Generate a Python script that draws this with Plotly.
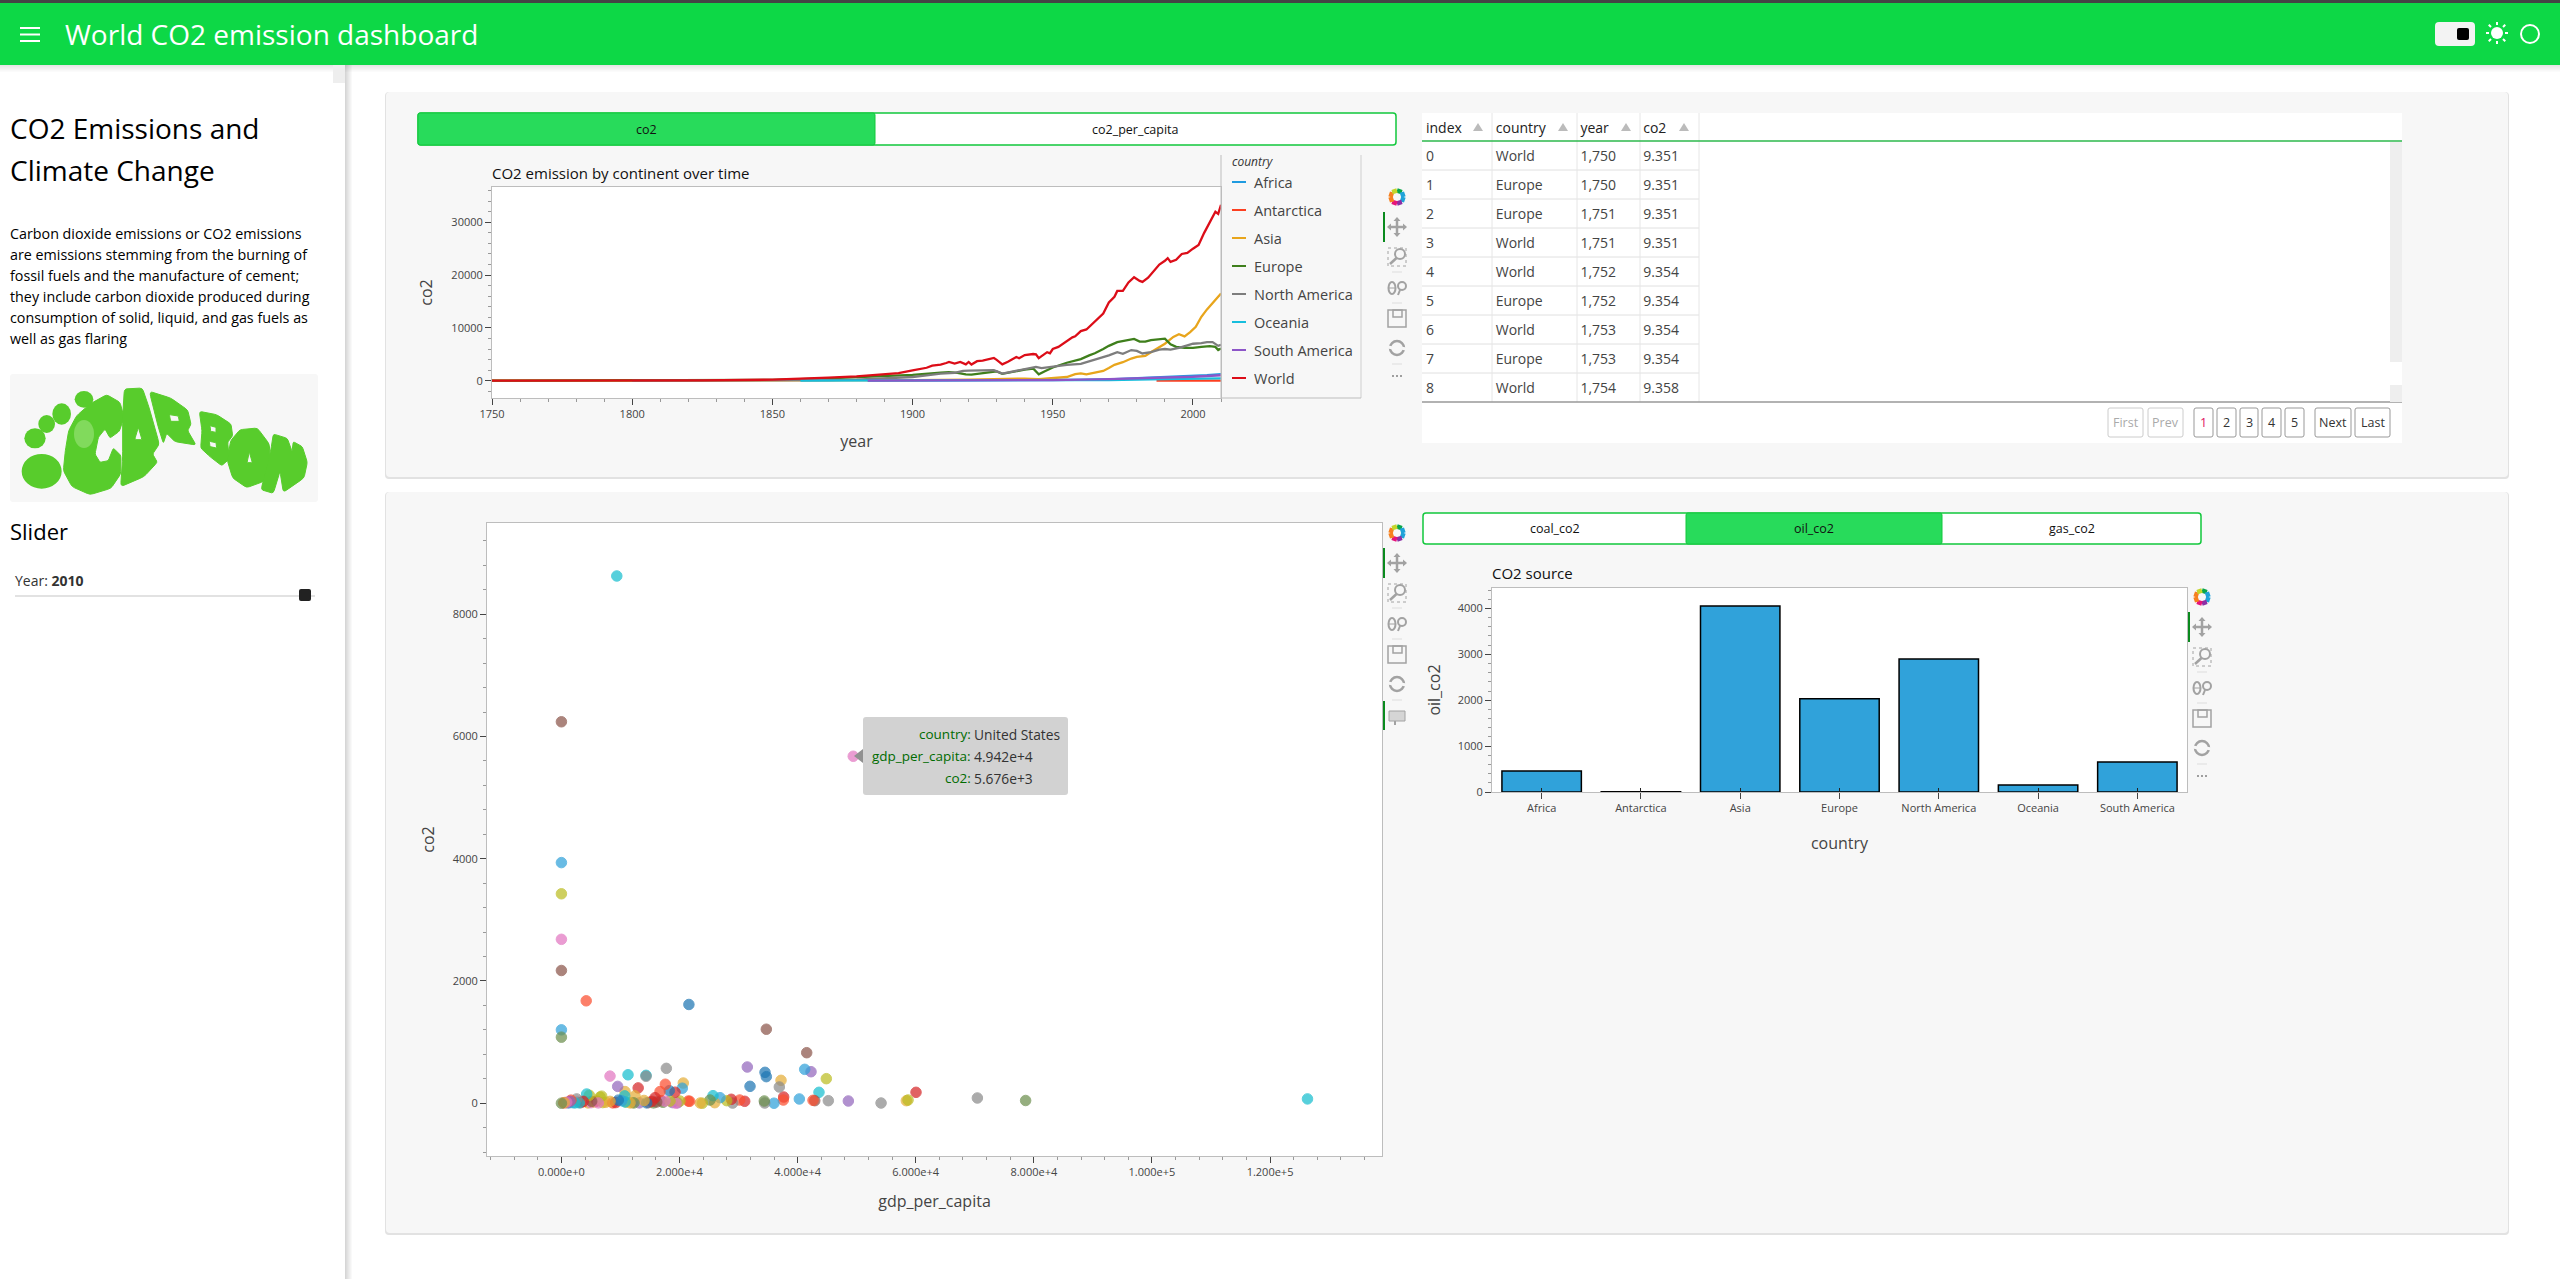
import plotly.graph_objects as go

W, H = 2560, 1279
FONT = "Open Sans"

# line chart: co2 by continent
continents = ["Africa", "Antarctica", "Asia", "Europe", "North America", "Oceania", "South America", "World"]

africa_year = [1884, 1900, 1920, 1940, 1950, 1960, 1970, 1980, 1990, 2000, 2005, 2010]
africa_co2 = [0, 3, 15, 50, 100, 150, 260, 480, 680, 830, 1030, 1220]
antarctica_year = [1987, 1995, 2005, 2010]
antarctica_co2 = [0, 0, 1, 1]
asia_year = [1750, 1850, 1880, 1900, 1920, 1940, 1945, 1950, 1955, 1958, 1960, 1962, 1965, 1968, 1970, 1972, 1975,
             1978, 1980, 1983, 1985, 1988, 1990, 1993, 1995, 1997, 1999, 2001, 2003, 2005, 2008, 2010]
asia_co2 = [0, 5, 30, 110, 200, 400, 300, 450, 700, 1250, 1400, 1200, 1500, 1850, 2400, 3000, 3500,
            4200, 4500, 4700, 5400, 6300, 7000, 8300, 8800, 8400, 9200, 10200, 12100, 13500, 15300, 16500]
europe_year = [1750, 1800, 1850, 1870, 1880, 1890, 1900, 1910, 1913, 1916, 1919, 1921, 1925, 1928, 1930, 1932, 1935,
               1938, 1940, 1943, 1945, 1947, 1950, 1955, 1960, 1963, 1965, 1968, 1970, 1973, 1976, 1979, 1981, 1983,
               1985, 1987, 1989, 1990, 1992, 1994, 1997, 2000, 2003, 2006, 2008, 2009, 2010]
europe_co2 = [9, 28, 170, 450, 640, 850, 1100, 1500, 1600, 1500, 1200, 1150, 1400, 1700, 1750, 1300, 1600,
              1950, 2100, 2300, 1200, 1750, 2500, 3400, 4100, 4800, 5200, 6000, 6600, 7300, 7600, 7900, 7400, 7400,
              7700, 7800, 7900, 7950, 6900, 6400, 6200, 6200, 6400, 6550, 6400, 5800, 6100]
north_america_year = [1800, 1850, 1870, 1880, 1890, 1900, 1905, 1910, 1915, 1918, 1920, 1925, 1929, 1932, 1936, 1940,
                      1944, 1946, 1950, 1955, 1960, 1965, 1970, 1973, 1975, 1978, 1980, 1982, 1985, 1988, 1990, 1992,
                      1995, 1998, 2000, 2003, 2005, 2007, 2009, 2010]
north_america_co2 = [1, 10, 100, 200, 400, 700, 1000, 1350, 1500, 1850, 1900, 2000, 2000, 1350, 1750, 2100,
                     2600, 2400, 2700, 3000, 3200, 3950, 4800, 5400, 5100, 5800, 5650, 5150, 5400, 5900, 6000, 5900,
                     6200, 6700, 7000, 7100, 7300, 7300, 6600, 6800]
oceania_year = [1860, 1880, 1900, 1950, 1970, 1990, 2000, 2010]
oceania_co2 = [1, 5, 15, 50, 130, 300, 380, 450]
south_america_year = [1884, 1900, 1930, 1950, 1970, 1990, 2000, 2010]
south_america_co2 = [1, 10, 40, 120, 300, 520, 750, 1030]
world_year = [1750, 1800, 1825, 1850, 1860, 1870, 1880, 1885, 1890, 1895, 1900, 1903, 1905, 1907, 1910, 1912, 1913,
              1915, 1917, 1919, 1920, 1921, 1923, 1925, 1927, 1929, 1930, 1932, 1934, 1936, 1937, 1938, 1940, 1943,
              1944, 1945, 1947, 1948, 1949, 1950, 1952, 1955, 1957, 1958, 1960, 1962, 1965, 1968, 1970, 1972, 1973,
              1975, 1977, 1979, 1981, 1982, 1984, 1986, 1988, 1990, 1991, 1992, 1994, 1996, 1998, 2000, 2002, 2004,
              2006, 2007, 2008, 2009, 2010]
world_co2 = [9, 28, 60, 200, 330, 570, 800, 1000, 1250, 1450, 1950, 2200, 2450, 2850, 3050, 3350, 3550,
             3250, 3550, 3100, 3550, 3050, 3700, 3780, 4050, 4300, 3950, 3100, 3600, 4150, 4500, 4250, 4850, 5050,
             5000, 4250, 5100, 5400, 5200, 6000, 6400, 7500, 8200, 8400, 9400, 9700, 11200, 12700, 14800, 15900, 17000,
             17000, 18600, 19600, 18900, 18700, 19500, 20800, 22000, 22700, 23200, 22500, 22900, 24000, 24200, 25000,
             25700, 28000, 30000, 31000, 32000, 31600, 33300]

# scatter: gdp_per_capita against co2, one point per country, group = colour cycle slot
scatter_gdp = [400, 800, 1200, 1500, 1900, 2700, 3300, 3900, 4500, 5000, 5600, 6000, 7000, 7500, 8700, 9200, 11000,
               12000, 13200, 14800, 15600, 16900, 17200, 18800, 19700,
               0, 0, 0, 0, 0, 0, 0, 4200, 21590, 9380, 49420, 126340, 78610, 70440, 60050, 58410, 58700, 54130,
               48590, 45200, 44860, 43620, 42900, 42610, 42270, 41540, 41200, 40290, 37640, 37580, 37190, 36900,
               36000, 34700, 34700, 34480, 34430, 34360, 31940, 31480, 31040, 30190, 29000, 28770, 28000, 26860,
               25960, 25670, 25170, 23870, 23500, 21720, 21490, 20640, 20470, 20080, 19400, 19240, 18390, 18270,
               17770, 17600, 17540, 16700, 16140, 15860, 15300, 14450, 14330, 14330, 13990, 13000, 12460, 12290,
               11620, 11280, 10770, 10770, 10720, 10210, 9640, 9530, 8230, 8230, 6820, 6540, 6250, 5130, 4730,
               4280, 3700, 3030, 2590, 2300, 1620, 1450, 900, 500, 0]
scatter_co2 = [5, 10, 5, 30, 8, 20, 10, 30, 5, 8, 20, 35, 10, 15, 5, 10, 20,
               8, 5, 10, 5, 40, 15, 10, 8,
               1200, 1080, 6240, 3936, 3426, 2681, 2171, 1675, 1615, 8625, 5676, 70, 44, 85, 178, 41, 52, 3,
               36, 41, 401, 178, 41, 47, 515, 826, 554, 69, 101, 52, 374, 265,
               0, 1210, 434, 505, 3, 36, 276, 592, 31, 52, 2, 64, 41, 90,
               8, 123, 52, 0, 3, 31, 35, 330, 245, 35, 0, 180, 35, 205,
               570, 310, 35, 190, 20, 90, 30, 5, 456, 440, 45, 250, 120, 5,
               5, 465, 190, 20, 120, 40, 50, 275, 443, 30, 115, 100, 5, 30, 130,
               150, 30, 5, 70, 5, 50, 30, 15, 10, 0]
scatter_group = [1, 7, 8, 1, 0, 9, 7, 7, 2, 9, 2, 7, 11, 2, 1, 7, 11,
                 2, 6, 1, 3, 7, 3, 6, 6,
                 0, 3, 10, 0, 11, 9, 10, 1, 8, 5, 9, 5, 3, 4, 7, 2, 11, 4,
                 6, 4, 11, 5, 10, 1, 6, 10, 0, 0, 7, 1, 2, 4,
                 0, 10, 8, 8, 4, 3, 8, 6, 7, 1, 4, 7, 11, 0,
                 2, 5, 3, 11, 2, 1, 1, 2, 0, 11, 9, 7, 11, 8,
                 4, 1, 9, 1, 10, 7, 7, 8, 5, 4, 2, 7, 2, 3,
                 2, 5, 2, 5, 5, 0, 8, 6, 9, 2, 11, 11, 9, 10, 11,
                 5, 7, 5, 4, 5, 1, 6, 9, 2, 3]

# bars: oil_co2 per continent
bar_categories = ["Africa", "Antarctica", "Asia", "Europe", "North America", "Oceania", "South America"]
oil_co2 = [457, 5, 4052, 2033, 2897, 152, 653]

# table
table_index = [str(i) for i in range(9)]
table_country = ["World", "Europe", "Europe", "World", "World", "Europe", "World", "Europe", "World"]
table_year = ["1,750", "1,750", "1,751", "1,751", "1,752", "1,752", "1,753", "1,753", "1,754"]
table_co2 = ["9.351", "9.351", "9.351", "9.351", "9.354", "9.354", "9.354", "9.354", "9.358"]

cycle = ["#30a2da", "#fc4f30", "#e5ae38", "#6d904f", "#8b8b8b", "#17becf",
         "#9467bd", "#d62728", "#1f77b4", "#e377c2", "#8c564b", "#bcbd22"]
line_colors = ["#1f9be0", "#fc3f20", "#e8a51c", "#3f7f1c", "#7d7d7d", "#17bedd", "#8d55c8", "#dc0d18"]
GREEN = "#0dd846"
ACTIVE = "#28db5b"
TABLINE = "#12c83c"
CLEAR = "rgba(0,0,0,0)"


def X(x):
    return x / W


def Y(y):
    return 1 - y / H


shapes = []
notes = []


def rect(x0, y0, x1, y1, fill, line=None, lw=1, layer="below", opacity=1, dash=None):
    shapes.append(dict(type="rect", xref="paper", yref="paper", x0=X(x0), x1=X(x1), y0=Y(y0), y1=Y(y1),
                       fillcolor=fill, line=dict(color=line or CLEAR, width=lw if line else 0, dash=dash),
                       layer=layer, opacity=opacity))


def seg(x0, y0, x1, y1, color, lw=1, layer="above"):
    shapes.append(dict(type="line", xref="paper", yref="paper", x0=X(x0), x1=X(x1), y0=Y(y0), y1=Y(y1),
                       line=dict(color=color, width=lw), layer=layer))


def oval(cx, cy, rx, ry, fill=None, line=None, lw=1, layer="above"):
    shapes.append(dict(type="circle", xref="paper", yref="paper", x0=X(cx - rx), x1=X(cx + rx), y0=Y(cy + ry),
                       y1=Y(cy - ry), fillcolor=fill or CLEAR,
                       line=dict(color=line or CLEAR, width=lw if line else 0), layer=layer))


def path(d, fill, line=None, lw=1, layer="above"):
    shapes.append(dict(type="path", xref="paper", yref="paper", path=d, fillcolor=fill,
                       line=dict(color=line or CLEAR, width=lw if line else 0), layer=layer))


def rrect(x0, y0, x1, y1, r, fill, line=None, lw=1, layer="below"):
    p = lambda x, y: f"{X(x)},{Y(y)}"
    d = (f"M{p(x0 + r, y0)} L{p(x1 - r, y0)} Q{p(x1, y0)} {p(x1, y0 + r)} L{p(x1, y1 - r)} Q{p(x1, y1)} {p(x1 - r, y1)} "
         f"L{p(x0 + r, y1)} Q{p(x0, y1)} {p(x0, y1 - r)} L{p(x0, y0 + r)} Q{p(x0, y0)} {p(x0 + r, y0)} Z")
    path(d, fill, line, lw, layer)


def blob(pts):
    # closed outline with only its corners rounded off
    n = len(pts)
    d = ""
    for i in range(n):
        a, b, c = pts[i - 1], pts[i], pts[(i + 1) % n]
        p0 = (b[0] + (a[0] - b[0]) * 0.15, b[1] + (a[1] - b[1]) * 0.15)
        p1 = (b[0] + (c[0] - b[0]) * 0.15, b[1] + (c[1] - b[1]) * 0.15)
        d += ("M" if i == 0 else " L") + f"{X(p0[0])},{Y(p0[1])} Q{X(b[0])},{Y(b[1])} {X(p1[0])},{Y(p1[1])}"
    return d + " Z"


def text(s, x, y, size, color="#111", anchor="left", angle=0, family=FONT):
    notes.append(dict(text=s, x=X(x), y=Y(y), xref="paper", yref="paper", xanchor=anchor, yanchor="middle",
                      showarrow=False, textangle=angle, borderpad=0, borderwidth=0,
                      font=dict(family=family, size=size, color=color)))


# page furniture
rect(0, 0, W, 3, "#444444", layer="below")
for i in range(7):
    rect(0, 65 + i, W, 66 + i, "#000000", layer="below", opacity=0.10 * (7 - i) / 7)
    rect(345 + i, 65, 346 + i, H, "#000000", layer="below", opacity=0.16 * (7 - i) / 7)
rect(0, 3, W, 65, GREEN)
rect(333, 65, 345, 83, "#eeeeee")
for y in (28, 34.5, 41):
    seg(20, y, 40, y, "white", 2)
text("World CO2 emission dashboard", 65, 34, 28, "white")

# header widgets
rrect(2435, 22, 2475, 46, 4, "#f3f3f3", layer="above")
rrect(2457, 28, 2469, 40, 2, "black", layer="above")
oval(2497, 33, 6, 6, "white")
for dx, dy in [(10, 0), (-10, 0), (0, 10), (0, -10), (7.5, 7.5), (-7.5, 7.5), (7.5, -7.5), (-7.5, -7.5)]:
    seg(2497 + dx * 0.8, 33 + dy * 0.8, 2497 + dx * 1.1, 33 + dy * 1.1, "white", 2)
oval(2530, 34, 9, 9, None, "white", 2)

# sidebar
text("CO2 Emissions and", 10, 127.5, 28, "#000")
text("Climate Change", 10, 169.5, 28, "#000")
for i, s in enumerate(["Carbon dioxide emissions or CO2 emissions",
                       "are emissions stemming from the burning of",
                       "fossil fuels and the manufacture of cement;",
                       "they include carbon dioxide produced during",
                       "consumption of solid, liquid, and gas fuels as",
                       "well as gas flaring"]):
    text(s, 10, 233.5 + i * 21, 14.3, "#000")

# carbon footprint logo, outlines taken from a 3x crop of the picture
rrect(10, 374, 318, 502, 3, "#f7f7f7")
LOGO = "#58cc2c"


def lg(pts):
    return [(10 + a / 3, 374 + b / 3) for a, b in pts]


for cx, cy, rx, ry in [(95, 292, 60, 52), (75, 193, 32, 30), (110, 150, 25, 27), (155, 120, 28, 32), (222, 76, 28, 25)]:
    oval(10 + cx / 3, 374 + cy / 3, rx / 3, ry / 3, LOGO, layer="below")
letters = [
    [[(200, 125), (240, 90), (290, 62), (330, 85), (342, 130), (328, 172), (300, 192), (285, 165), (265, 190),
      (255, 240), (270, 265), (295, 260), (310, 222), (333, 245), (332, 300), (303, 343), (240, 362), (186, 338),
      (160, 290), (166, 230), (176, 170)]],
    [[(343, 45), (397, 42), (417, 100), (448, 210), (428, 240), (442, 265), (402, 308), (332, 338), (338, 250),
      (338, 130)], [(385, 160), (374, 197), (396, 197)]],
    [[(418, 52), (482, 72), (533, 108), (543, 150), (533, 170), (558, 213), (495, 203), (470, 178), (460, 208),
      (445, 160)], [(478, 122), (505, 126), (508, 142), (482, 142)]],
    [[(568, 112), (620, 122), (663, 150), (668, 185), (653, 205), (658, 255), (635, 275), (600, 248), (572, 222),
      (576, 170)], [(600, 155), (618, 160), (618, 175), (602, 172)], [(598, 202), (618, 206), (620, 222), (600, 218)]],
    [[(690, 167), (742, 162), (778, 210), (781, 270), (762, 322), (710, 341), (668, 312), (652, 260), (662, 200)],
     [(718, 234), (727, 266), (711, 266)]],
    [[(790, 180), (832, 193), (846, 232), (850, 203), (877, 218), (892, 265), (882, 312), (820, 355), (810, 292),
      (790, 358), (753, 347), (773, 270), (783, 225)]],
]
for parts in letters:
    path(" ".join(blob(lg(p)) for p in parts), LOGO, LOGO, 1, layer="below")
oval(10 + 222 / 3, 374 + 180 / 3, 10, 14, "rgba(180,235,150,0.45)", layer="below")

text("Slider", 10, 531, 22, "#000")
text("Year: <b>2010</b>", 15, 580, 14, "#333")
rect(15, 595, 315, 597, "#e2e2e2")
rrect(299, 589, 311, 601, 2, "#222222", layer="above")

# cards
for y0, y1 in [(92, 477), (492, 1233)]:
    rrect(385, y0, 2509, y1 + 2, 4, "#e2e2e2")
    rrect(386, y0, 2508, y1, 4, "#f7f7f7")
# plot areas: the layout background sits under the cards, so repeat it here
rect(492, 187, 1221, 398, "white")
rect(487, 523, 1382, 1156, "white")
rect(1492, 588, 2187, 792, "white")


def tabs(x0, x1, y0, y1, labels, stops, active):
    rrect(x0, y0, x1, y1, 3, "white", TABLINE, 1.5, layer="below")
    rrect(stops[active], y0, stops[active + 1], y1, 2, ACTIVE, TABLINE, 1, layer="below")
    for i, s in enumerate(labels):
        text(s, (stops[i] + stops[i + 1]) / 2, (y0 + y1) / 2, 12.5, "#111", "center")


tabs(418, 1396, 113, 145, ["co2", "co2_per_capita"], [418, 875, 1396], 0)
tabs(1423, 2201, 513, 544, ["coal_co2", "oil_co2", "gas_co2"], [1423, 1686, 1942, 2201], 1)


def toolbar(cx, cy, last="dots"):
    gray = "#a2a2a2"
    # logo ring
    ring = [("#0aa64a", 0, -1), ("#1fa3d9", 0.75, -0.75), ("#1fa3d9", 1, 0), ("#8b2fa5", 0.75, 0.75),
            ("#e5147a", 0, 1), ("#f6801f", -0.75, 0.75), ("#f6801f", -1, 0), ("#c3d62b", -0.75, -0.75)]
    for i, (c, dx, dy) in enumerate(ring):
        nx, ny = ring[(i + 1) % 8][1:]
        seg(cx + 6.5 * dx, cy + 6.5 * dy, cx + 6.5 * nx, cy + 6.5 * ny, c, 4.5)
    # pan
    py = cy + 30
    seg(cx - 8, py, cx + 8, py, gray, 2.5)
    seg(cx, py - 8, cx, py + 8, gray, 2.5)
    for a, b in [(1, 0), (-1, 0), (0, 1), (0, -1)]:
        tip = (cx + 10 * a, py + 10 * b)
        s1 = (cx + 6 * a + 3.5 * b, py + 6 * b + 3.5 * a)
        s2 = (cx + 6 * a - 3.5 * b, py + 6 * b - 3.5 * a)
        path(f"M{X(tip[0])},{Y(tip[1])} L{X(s1[0])},{Y(s1[1])} L{X(s2[0])},{Y(s2[1])} Z", gray)
    rect(cx - 14, cy + 15, cx - 12, cy + 45, "#0a8a1e", layer="above")
    # box zoom
    zy = cy + 60
    rect(cx - 9, zy - 9, cx + 9, zy + 9, CLEAR, gray, 1, layer="above", dash="dot")
    oval(cx + 3, zy - 3, 5, 5, "#f7f7f7", gray, 2)
    seg(cx - 0.5, zy + 1, cx - 7, zy + 7, gray, 2.5)
    seg(cx - 5, cy + 75, cx + 5, cy + 75, "#dddddd", 1)
    # wheel zoom
    wy = cy + 91
    oval(cx - 5, wy, 3.5, 6, None, gray, 2)
    seg(cx - 8, wy, cx - 2, wy, gray, 1)
    oval(cx + 5, wy - 2, 4, 4, None, gray, 2)
    seg(cx + 3, wy + 2, cx + 1, wy + 7, gray, 2)
    seg(cx - 5, cy + 106, cx + 5, cy + 106, "#dddddd", 1)
    # save
    sy = cy + 122
    rect(cx - 9, sy - 9, cx + 9, sy + 8, CLEAR, gray, 1.5, layer="above")
    rect(cx - 4, sy - 9, cx + 5, sy - 2, CLEAR, gray, 1.5, layer="above")
    # reset
    ry = cy + 151
    oval(cx, ry, 7, 7, None, gray, 2.5)
    seg(cx - 9, ry - 1, cx - 4, ry + 0, "#f7f7f7", 3)
    seg(cx + 4, ry, cx + 9, ry + 1, "#f7f7f7", 3)
    seg(cx - 5, cy + 167, cx + 5, cy + 167, "#dddddd", 1)
    if last == "dots":
        for dx in (-4, 0, 4):
            rect(cx + dx - 0.8, cy + 178, cx + dx + 0.8, cy + 180, "#888888", layer="above")
    else:
        hy = cy + 184
        rect(cx - 8, hy - 6, cx + 8, hy + 4, "#d5d5d5", gray, 1, layer="above")
        seg(cx - 2, hy + 4, cx - 2, hy + 8, gray, 2)
        rect(cx - 14, cy + 168, cx - 12, cy + 197, "#0a8a1e", layer="above")


toolbar(1397, 197)
toolbar(1397, 533, "hover")
toolbar(2202, 597)

fig = go.Figure()


def add_line(x, y, i):
    fig.add_trace(go.Scatter(x=x, y=y, mode="lines", name=continents[i], xaxis="x", yaxis="y",
                             line=dict(color=line_colors[i], width=2.3), showlegend=False))


add_line(africa_year, africa_co2, 0)
add_line(antarctica_year, antarctica_co2, 1)
add_line(asia_year, asia_co2, 2)
add_line(europe_year, europe_co2, 3)
add_line(north_america_year, north_america_co2, 4)
add_line(oceania_year, oceania_co2, 5)
add_line(south_america_year, south_america_co2, 6)
add_line(world_year, world_co2, 7)

fig.add_trace(go.Scatter(x=scatter_gdp, y=scatter_co2, mode="markers", xaxis="x2", yaxis="y2", showlegend=False,
                         marker=dict(size=10.5, opacity=0.72, color=[cycle[g] for g in scatter_group],
                                     line=dict(width=1, color=[cycle[g] for g in scatter_group]))))

fig.add_trace(go.Bar(x=bar_categories, y=oil_co2, xaxis="x3", yaxis="y3", width=0.8, showlegend=False,
                     marker=dict(color="#30a2da", line=dict(color="black", width=1.5))))
# empty trace so the inward tick marks of the bar axis get drawn over the bars
fig.add_trace(go.Scatter(x=bar_categories, y=[None] * 7, xaxis="x4", yaxis="y3", showlegend=False, mode="lines"))

# table text starts 8px into each cell in plotly, so the grid is drawn separately
fig.add_trace(go.Table(
    domain=dict(x=[X(1418), X(1695)], y=[Y(403.5), Y(114.5)]),
    columnwidth=[70, 85, 63, 59],
    header=dict(values=["index", "country", "year", "co2"], height=28, align="left", fill_color=CLEAR,
                line_color=CLEAR, font=dict(family=FONT, size=14, color="#222")),
    cells=dict(values=[table_index, table_country, table_year, table_co2], height=29, align="left",
               fill_color=CLEAR, line_color=CLEAR, font=dict(family=FONT, size=14, color="#444"))))

# table furniture
rect(1422, 113, 2402, 443, "white")
for k in range(1, 9):
    seg(1422, 141 + 29 * k, 1699, 141 + 29 * k, "#e0e0e0", 1)
for vx in (1492, 1577, 1640, 1699):
    seg(vx, 113, vx, 402, "#e6e6e6", 1)
seg(1422, 141, 2402, 141, "#2db84d", 1.5)
seg(1422, 402, 2402, 402, "#999999", 1.5)
rect(2390, 142, 2402, 362, "#eeeeee", layer="above")
rect(2390, 385, 2402, 402, "#eeeeee", layer="above")
for tx in (1478, 1563, 1626, 1684):
    path(f"M{X(tx - 5)},{Y(131)} L{X(tx + 5)},{Y(131)} L{X(tx)},{Y(123)} Z", "#bbbbbb")
pages = [("First", 2108, 2143, "#aaaaaa"), ("Prev", 2148, 2183, "#aaaaaa"), ("1", 2194, 2213, "#e0105f"),
         ("2", 2217, 2236, "#333333"), ("3", 2240, 2258, "#333333"), ("4", 2262, 2281, "#333333"),
         ("5", 2285, 2304, "#333333"), ("Next", 2315, 2351, "#333333"), ("Last", 2355, 2390, "#333333")]
for s, x0, x1, c in pages:
    rrect(x0, 408, x1, 437, 2, "white", "#cccccc" if c == "#aaaaaa" else "#999999", 1)
    text(s, (x0 + x1) / 2, 422.5, 12.5, c, "center")

# legend of the line chart
rect(1221, 155, 1361, 398, "#f7f7f7")
seg(1221, 155, 1221, 398, "#bdbdbd", 1)
seg(1361, 155, 1361, 398, "#cfcfcf", 1)
seg(1221, 398, 1361, 398, "#bdbdbd", 1)
text("<i>country</i>", 1232, 161, 12, "#333")
for i, name in enumerate(continents):
    ly = 182 + i * 28
    seg(1232, ly, 1246, ly, line_colors[i], 2)
    text(name, 1254, ly, 14.5, "#444")

# panel titles
text("CO2 emission by continent over time", 492, 172.5, 15, "#111")
text("CO2 source", 1492, 572.5, 15, "#111")

# hover tooltip
rrect(863, 717, 1068, 795, 3, "#d2d2d2", layer="above")
path(f"M{X(854)},{Y(756)} L{X(863)},{Y(749)} L{X(863)},{Y(763)} Z", "#909090")
for row, (label, value) in enumerate([("country:", "United States"), ("gdp_per_capita:", "4.942e+4"),
                                      ("co2:", "5.676e+3")]):
    text(label, 971, 734 + row * 22, 13.5, "#006b00", "right")
    text(value, 974, 734 + row * 22, 13.8, "#333")

tickfont = dict(family=FONT, size=11, color="#444")
titlefont = dict(family=FONT, size=16, color="#444")
frame = dict(showgrid=False, zeroline=False, showline=True, mirror=True, linecolor="#bdbdbd", linewidth=1,
             ticks="outside", ticklen=6, tickcolor="#444", tickwidth=1, tickfont=tickfont, automargin=False)


def minor(step):
    return dict(ticks="outside", ticklen=3, tickcolor="#999", tick0=0, dtick=step, showgrid=False)


fig.update_layout(
    width=W, height=H, margin=dict(l=0, r=0, t=0, b=0), paper_bgcolor="white", plot_bgcolor="white",
    showlegend=False, shapes=shapes, annotations=notes, font=dict(family=FONT),
    xaxis=dict(frame, domain=[X(492), X(1221)], range=[1750, 2010], anchor="y", tick0=1750, dtick=50,
               tickformat="d", minor=minor(10), title=dict(text="year", font=titlefont, standoff=15)),
    yaxis=dict(frame, domain=[Y(398), Y(187)], range=[-3277, 36680], anchor="x", dtick=10000,
               tickformat="d", minor=minor(2000), title=dict(text="co2", font=titlefont, standoff=14)),
    xaxis2=dict(frame, domain=[X(487), X(1382)], range=[-12600, 138960], anchor="y2", dtick=20000,
                tickformat=".3e", minor=minor(4000), title=dict(text="gdp_per_capita", font=titlefont, standoff=17)),
    yaxis2=dict(frame, domain=[Y(1156), Y(523)], range=[-864, 9492], anchor="x2", dtick=2000,
                tickformat="d", minor=minor(400), title=dict(text="co2", font=titlefont, standoff=14)),
    xaxis3=dict(frame, domain=[X(1492), X(2187)], range=[-0.5, 6.5], anchor="y3", type="category",
                title=dict(text="country", font=titlefont, standoff=23)),
    xaxis4=dict(domain=[X(1492), X(2187)], range=[-0.5, 6.5], anchor="y3", type="category", overlaying="x3",
                ticks="inside", ticklen=4, tickcolor="#222", showticklabels=False, showgrid=False, zeroline=False),
    yaxis3=dict(frame, domain=[Y(792), Y(588)], range=[0, 4444], anchor="x3", dtick=1000,
                tickformat="d", minor=minor(200), title=dict(text="oil_co2", font=titlefont, standoff=13)),
)

fig.write_html("out.html", config=dict(displayModeBar=False),
               post_script="document.body.style.margin='0';document.body.style.overflow='hidden';")
